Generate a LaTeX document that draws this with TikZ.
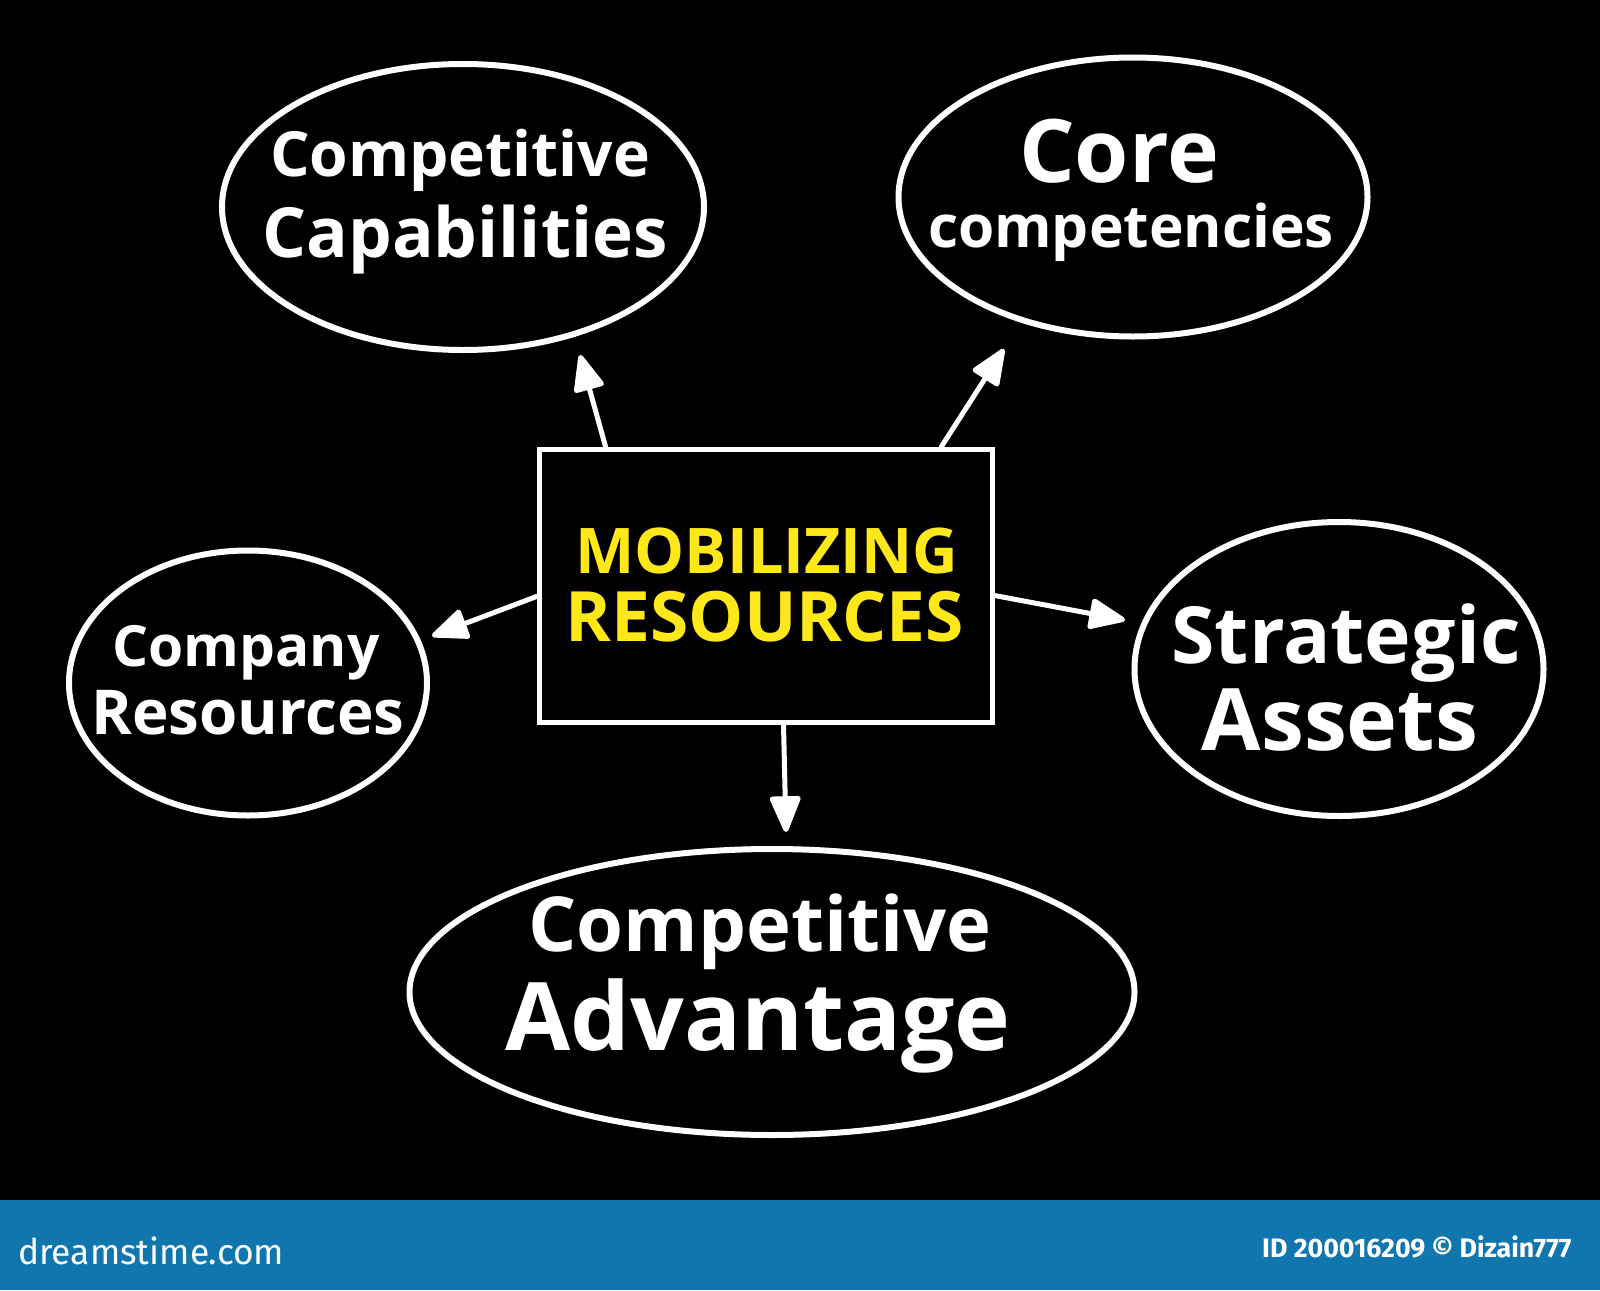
\documentclass[tikz,border=0pt]{standalone}
\usepackage{fontspec}
\usepackage{graphicx}
\setmainfont{Open Sans}
\newfontfamily\barfont{Fira Sans}
\usetikzlibrary{arrows.meta,shapes.geometric}
\definecolor{barblue}{HTML}{1176AE}
\definecolor{mkyellow}{HTML}{FFE81A}
\newcommand{\fitw}[2]{\resizebox{#1}{!}{\bfseries #2}}
\tikzset{
  bubble/.style={draw=white, line width=6pt, ellipse, inner sep=0pt},
  hubbox/.style={draw=white, line width=5pt, rectangle, inner sep=0pt},
  txt/.style={text=white, inner sep=0pt, anchor=center},
  hubtxt/.style={text=mkyellow, inner sep=0pt, anchor=center},
  conn/.style={draw=white, line width=5pt, line cap=round,
    -{Triangle[length=40pt,width=32pt,round]}},
  bartxt/.style={text=white, inner sep=0pt, anchor=west}
}
\begin{document}
\begin{tikzpicture}[x=1pt,y=-1pt]
\fill[black] (0,0) rectangle (1600,1200);
\fill[barblue] (0,1200) rectangle (1600,1290);
\useasboundingbox (0,0) rectangle (1600,1290);

% ellipses
\node[bubble, minimum width=482pt, minimum height=286pt] (cap) at (463,207) {};
\node[bubble, minimum width=469pt, minimum height=279pt] (core) at (1133,197) {};
\node[bubble, minimum width=358pt, minimum height=265pt] (res) at (248,683) {};
\node[bubble, minimum width=409pt, minimum height=294pt] (asset) at (1339,669) {};
\node[bubble, minimum width=725pt, minimum height=286pt] (adv) at (772,992) {};

% hub
\node[hubbox, minimum width=453pt, minimum height=273pt] (hub) at (765.5,585.5) {};

% texts
\node[txt] (capA) at (460,160) {\fitw{380pt}{Competitive}};
\node[txt] (capB) at (465,240) {\fitw{405pt}{Capabilities}};
\node[txt] (coreA) at (1119,151) {\fitw{200pt}{Core}};
\node[txt] (coreB) at (1131,232) {\fitw{406pt}{competencies}};
\node[hubtxt] (hubA) at (767,551) {\fitw{383pt}{MOBILIZING}};
\node[hubtxt] (hubB) at (765,617) {\fitw{398pt}{RESOURCES}};
\node[txt] (resA) at (246,653) {\fitw{267pt}{Company}};
\node[txt] (resB) at (248,713) {\fitw{313pt}{Resources}};
\node[txt] (assetA) at (1346,643) {\fitw{349pt}{Strategic}};
\node[txt] (assetB) at (1340,720) {\fitw{276pt}{Assets}};
\node[txt] (advA) at (760,932) {\fitw{463pt}{Competitive}};
\node[txt] (advB) at (758,1026) {\fitw{505pt}{Advantage}};

% arrow tips
\coordinate (t1) at (580,355);
\coordinate (t2) at (1004,349);
\coordinate (t3) at (1125,620);
\coordinate (t4) at (432,636);
\coordinate (t5) at (786,832);

\draw[conn] ([xshift=69pt]hub.north west) -- (t1);
\draw[conn] ([xshift=-53pt]hub.north east) -- (t2);
\draw[conn] ([yshift=-10pt]hub.east) -- (t3);
\draw[conn] ([yshift=-11pt]hub.west) -- (t4);
\draw[conn] ([xshift=18pt]hub.south) -- (t5);

% bottom bar
\node[bartxt] (site) at (18,1251) {\resizebox{266pt}{!}{\barfont dreamstime.com}};
\node[bartxt] (idtxt) at (1262,1247) {\resizebox{309pt}{!}{\barfont\bfseries ID 200016209 © Dizain777}};
\end{tikzpicture}
\end{document}
